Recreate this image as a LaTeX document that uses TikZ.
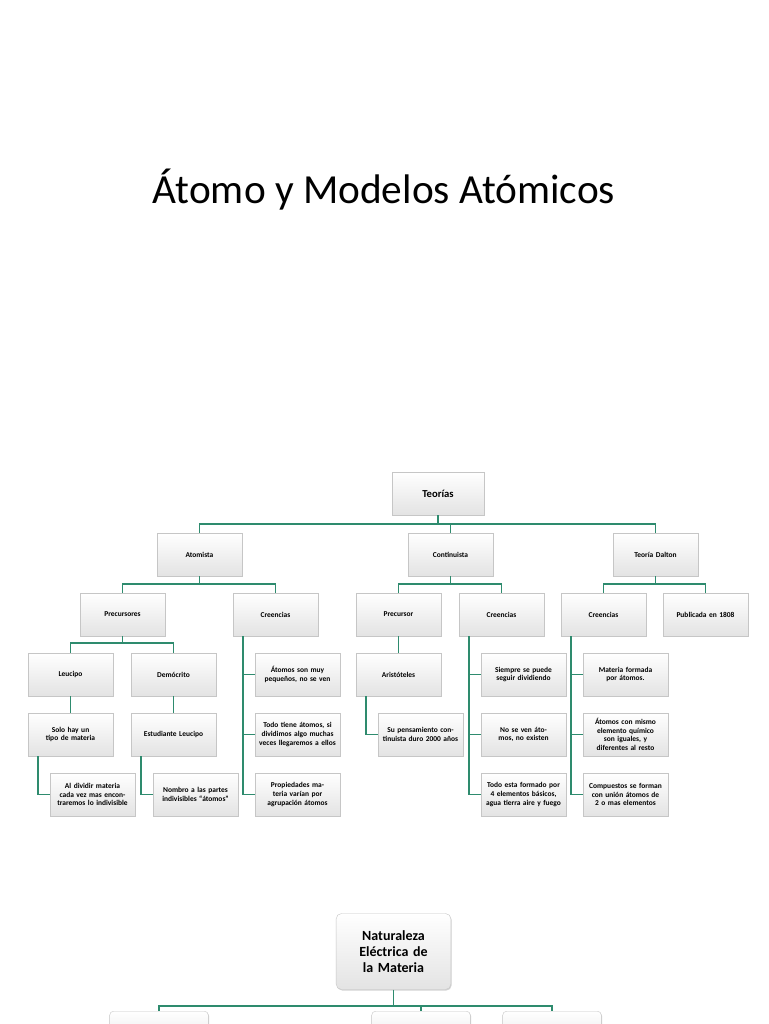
\documentclass[tikz,border=0pt]{standalone}
\usepackage{fontspec}
\setmainfont{Carlito}
\usetikzlibrary{shadows}
\definecolor{ln}{HTML}{2E8B6E}
\tikzset{
 bx/.style={draw=gray!45, line width=0.3pt, top color=white, bottom color=gray!22, drop shadow={shadow xshift=0.6pt,shadow yshift=-0.8pt,opacity=0.35}, minimum width=63.75pt, minimum height=32.25pt, text width=58pt, align=center, font=\fontsize{5.6}{6.4}\selectfont\bfseries, inner sep=1pt},
 big/.style={bx, rounded corners=4pt, minimum width=86pt, minimum height=57pt, text width=78pt, font=\fontsize{10.5}{12}\selectfont\bfseries},
 cn/.style={draw=ln, line width=0.8pt},
}
\begin{document}
\begin{tikzpicture}[x=0.75pt,y=-0.75pt]
\useasboundingbox (0,0) rectangle (768,1024);
\fill[white] (0,0) rectangle (768,1024);
\node[font=\fontsize{31}{36}\selectfont] (title) at (384,190) {Átomo y Modelos Atómicos};
% level0
\node[bx, minimum width=69pt, font=\fontsize{8}{9}\selectfont\bfseries] (teo) at (438,493.5) {Teorías};
% level1
\node[bx] (ato) at (199.5,554.5) {Atomista};
\node[bx] (con) at (450.5,554.5) {Continuista};
\node[bx] (dal) at (655.5,554.5) {Teoría Dalton};
% level2
\node[bx] (pre) at (122.5,614.5) {Precursores};
\node[bx] (cr1) at (275.5,614.5) {Creencias};
\node[bx] (prc) at (398.5,614.5) {Precursor};
\node[bx] (cr2) at (501.5,614.5) {Creencias};
\node[bx] (cr3) at (603.5,614.5) {Creencias};
\node[bx] (pub) at (705.5,614.5) {Publicada en 1808};
% level3
\node[bx] (leu) at (70.5,674.5) {Leucipo};
\node[bx] (dem) at (173.5,674.5) {Demócrito};
\node[bx] (ari) at (398.5,674.5) {Aristóteles};
\node[bx] (a1) at (297.5,674.5) {Átomos son muy pequeños, no se ven};
\node[bx] (c1) at (523.5,674.5) {Siempre se puede seguir dividiendo};
\node[bx] (d1) at (625.5,674.5) {Materia formada por átomos.};
% level4
\node[bx] (solo) at (70.5,734.5) {Solo hay un tipo de materia};
\node[bx] (est) at (173.5,734.5) {Estudiante Leucipo};
\node[bx] (su) at (420.5,734.5) {Su pensamiento continuista duro 2000 años};
\node[bx] (a2) at (297.5,734.5) {Todo tiene átomos, si dividimos algo muchas veces llegaremos a ellos};
\node[bx] (c2) at (523.5,734.5) {No se ven átomos, no existen};
\node[bx] (d2) at (625.5,734.5) {Átomos con mismo elemento químico son iguales, y diferentes al resto};
% level5
\node[bx] (al) at (92.5,794.5) {Al dividir materia cada vez mas encontraremos lo indivisible};
\node[bx] (nom) at (195.5,794.5) {Nombro a las partes indivisibles “átomos”};
\node[bx] (a3) at (297.5,794.5) {Propiedades materia varían por agrupación átomos};
\node[bx] (c3) at (523.5,794.5) {Todo esta formado por 4 elementos básicos, agua tierra aire y fuego};
\node[bx] (d3) at (625.5,794.5) {Compuestos se forman con unión átomos de 2 o mas elementos};
% connectors
\draw[cn] (teo.south) -- (438,524) -| (ato.north);
\draw[cn] (438,524) -| (con.north);
\draw[cn] (438,524) -| (dal.north);
\draw[cn] (ato.south) -- (199.5,584) -| (pre.north);
\draw[cn] (199.5,584) -| (cr1.north);
\draw[cn] (con.south) -- (450.5,584) -| (prc.north);
\draw[cn] (450.5,584) -| (cr2.north);
\draw[cn] (dal.south) -- (655.5,584) -| (cr3.north);
\draw[cn] (655.5,584) -| (pub.north);
\draw[cn] (pre.south) -- (122.5,643) -| (leu.north);
\draw[cn] (122.5,643) -| (dem.north);
\draw[cn] (prc.south) -- (ari.north);
\draw[cn] (leu.south) -- (solo.north);
\draw[cn] (dem.south) -- (est.north);
\draw[cn] (38,756) |- (al.west);
\draw[cn] (141,756) |- (nom.west);
\draw[cn] (366,696) |- (su.west);
\draw[cn] (243,636) |- (a3.west);
\draw[cn] (243,674.5) -- (a1.west);
\draw[cn] (243,734.5) -- (a2.west);
\draw[cn] (469,636) |- (c3.west);
\draw[cn] (469,674.5) -- (c1.west);
\draw[cn] (469,734.5) -- (c2.west);
\draw[cn] (571,636) |- (d3.west);
\draw[cn] (571,674.5) -- (d1.west);
\draw[cn] (571,734.5) -- (d2.west);
% bottom
\node[big] (nat) at (393.5,951.5) {Naturaleza Eléctrica de la Materia};
\begin{scope}
\clip (0,0) rectangle (768,1024);
\node[bx, rounded corners=3pt, minimum width=74pt, minimum height=30pt, anchor=north] (b1) at (159,1011) {};
\node[bx, rounded corners=3pt, minimum width=74pt, minimum height=30pt, anchor=north] (b2) at (421,1011) {};
\node[bx, rounded corners=3pt, minimum width=74pt, minimum height=30pt, anchor=north] (b3) at (552,1011) {};
\end{scope}
\draw[cn] (nat.south) -- (393.5,1006) -| (b1.north);
\draw[cn] (393.5,1006) -| (b2.north);
\draw[cn] (393.5,1006) -| (b3.north);
\end{tikzpicture}
\end{document}
